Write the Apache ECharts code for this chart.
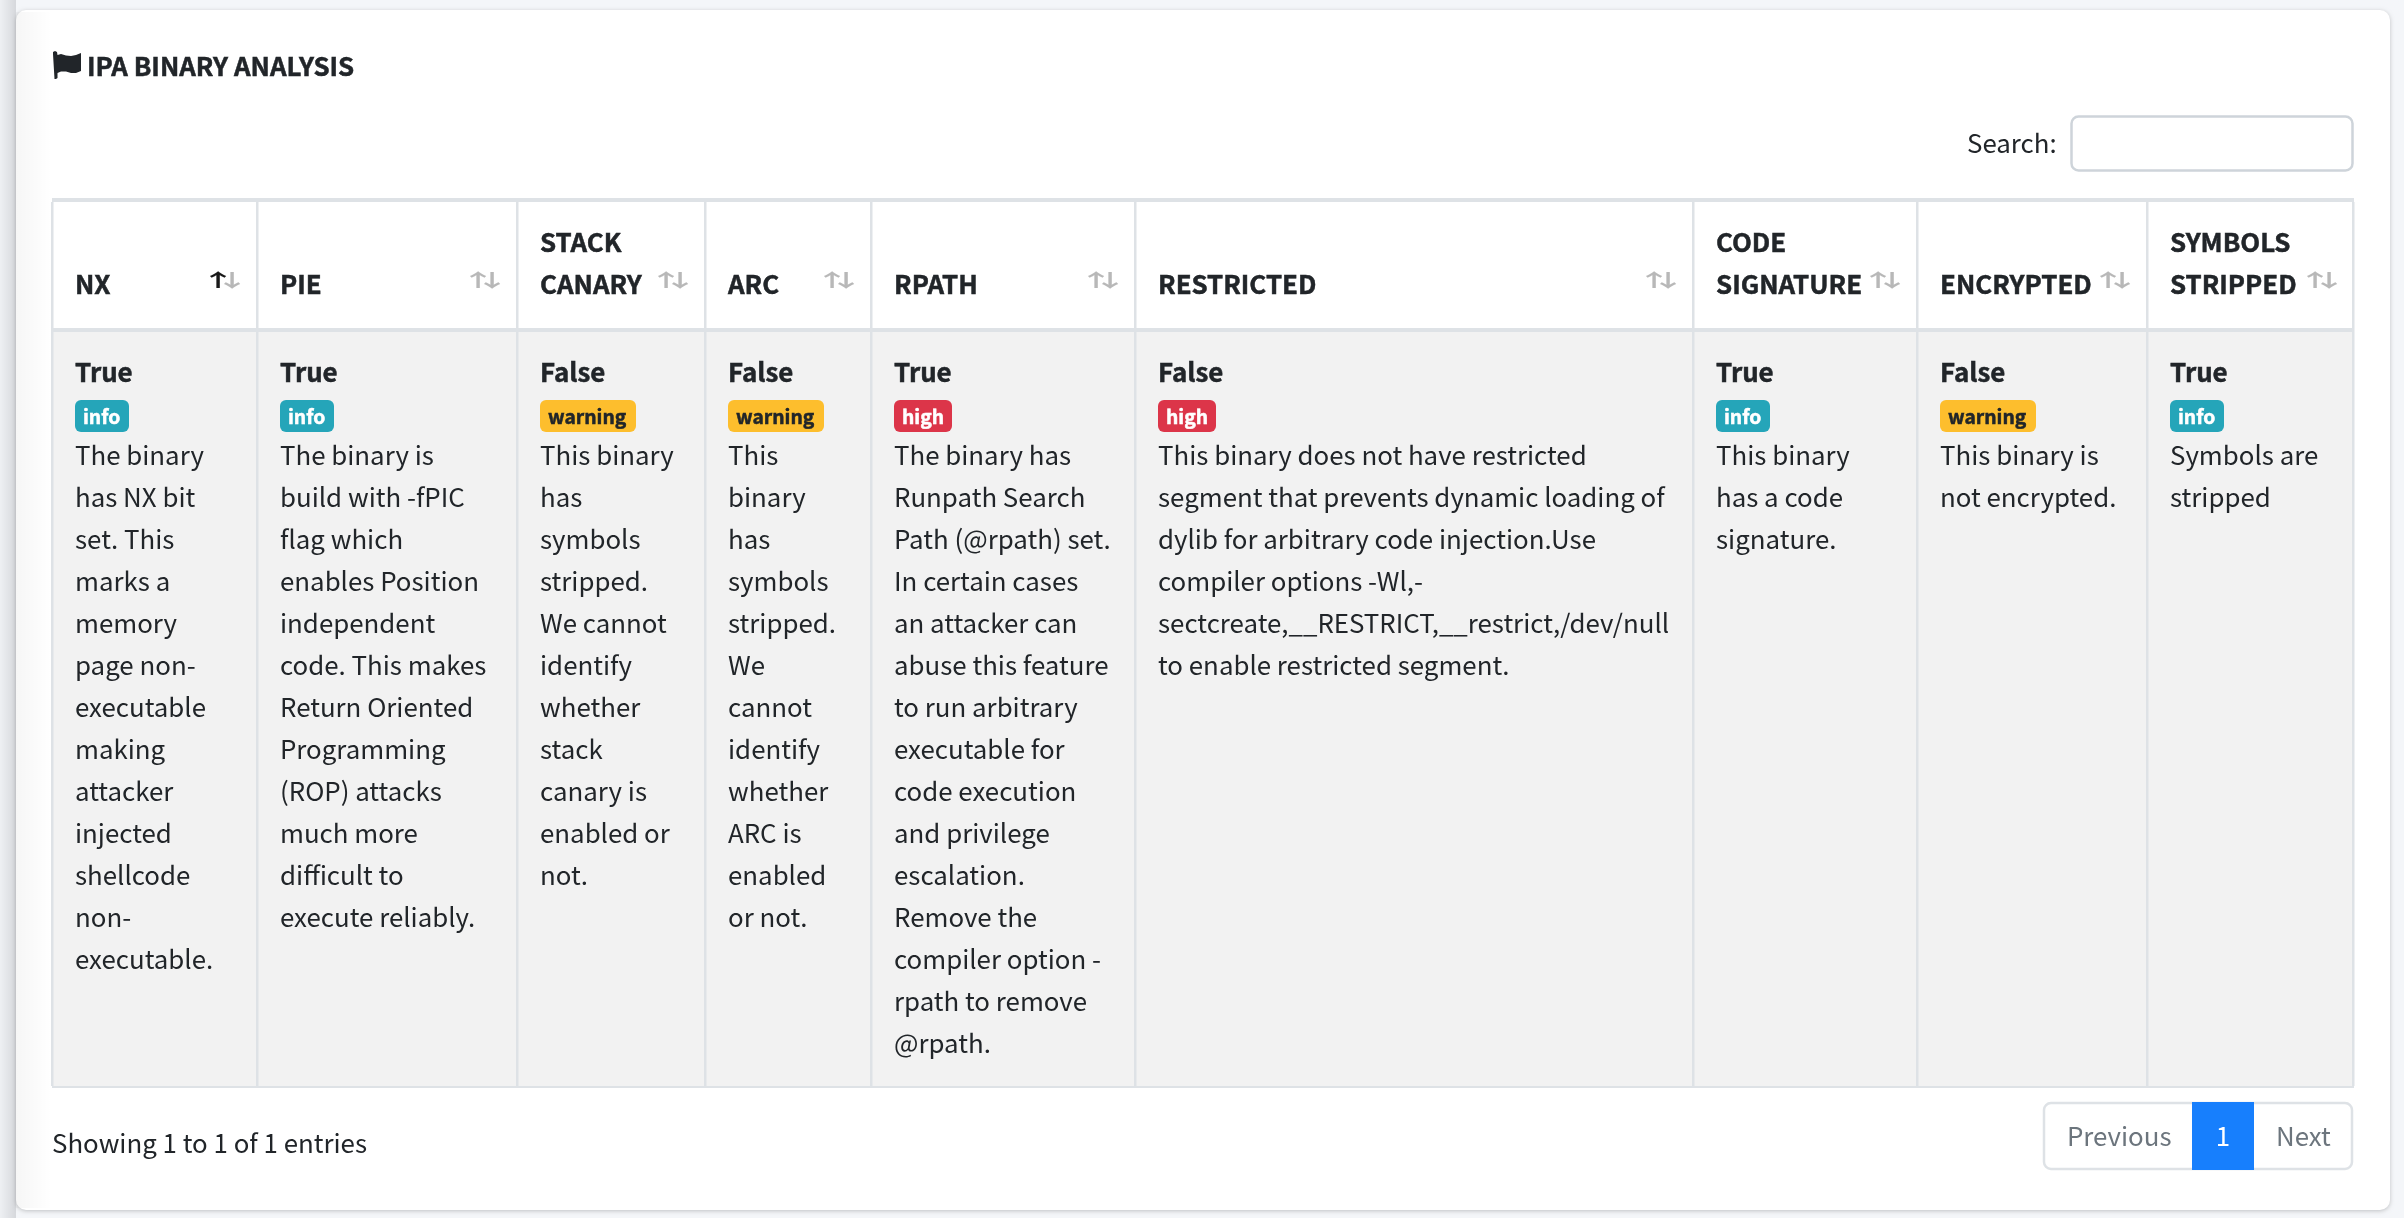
<!DOCTYPE html>
<html><head><meta charset="utf-8">
<style>html,body{margin:0;padding:0;background:#f4f6f9}#c{width:2404px;height:1218px}</style>
<script src="https://cdn.jsdelivr.net/npm/echarts@6/dist/echarts.min.js"></script>
</head><body><div id="c"></div>
<script>
const title = 'IPA BINARY ANALYSIS';
const headers = [['NX'],['PIE'],['STACK','CANARY'],['ARC'],['RPATH'],['RESTRICTED'],['CODE','SIGNATURE'],['ENCRYPTED'],['SYMBOLS','STRIPPED']];
const statuses = ['True','True','False','False','True','False','True','False','True'];
const severities = ['info','info','warning','warning','high','high','info','warning','info'];
const descriptions = [
 ['The binary','has NX bit','set. This','marks a','memory','page non-','executable','making','attacker','injected','shellcode','non-','executable.'],
 ['The binary is','build with -fPIC','flag which','enables Position','independent','code. This makes','Return Oriented','Programming','(ROP) attacks','much more','difficult to','execute reliably.'],
 ['This binary','has','symbols','stripped.','We cannot','identify','whether','stack','canary is','enabled or','not.'],
 ['This','binary','has','symbols','stripped.','We','cannot','identify','whether','ARC is','enabled','or not.'],
 ['The binary has','Runpath Search','Path (@rpath) set.','In certain cases','an attacker can','abuse this feature','to run arbitrary','executable for','code execution','and privilege','escalation.','Remove the','compiler option -','rpath to remove','@rpath.'],
 ['This binary does not have restricted','segment that prevents dynamic loading of','dylib for arbitrary code injection.Use','compiler options -Wl,-','sectcreate,__RESTRICT,__restrict,/dev/null','to enable restricted segment.'],
 ['This binary','has a code','signature.'],
 ['This binary is','not encrypted.'],
 ['Symbols are','stripped']
];
const searchLabel = 'Search:';
const footerText = 'Showing 1 to 1 of 1 entries';
const pager = ['Previous','1','Next'];

// layout (pixels of the reference)
const W = 2404, H = 1218;
const edges = [52,257,517,705,871,1135,1693,1917,2147,2354];
const FONT = '"Noto Sans CJK JP","Noto Sans",sans-serif';
const BODY = 25.85, SMALL = 19.3;
const INK = '#212529', LINE = '#dee2e6';
const badge = {
  info:{fill:'#25a5b9',ink:'#ffffff',w:54},
  warning:{fill:'#fdbe2d',ink:'#212529',w:96},
  high:{fill:'#dc3549',ink:'#ffffff',w:58}
};
// y is the text baseline; the library places text by its top edge
const txt = (text,x,y,size,weight,fill,extra) => ({type:'text',silent:true,
  style:Object.assign({text,x,y:y-size*0.875,fill,font:`${weight} ${size}px ${FONT}`,align:'left',verticalAlign:'top'},
    weight>=700?{stroke:fill,lineWidth:0.5}:{},extra||{})});
const arrow = (text,x,y,opacity) => ({type:'text',silent:true,x,y,scaleX:1.9,scaleY:1,
  style:{text,x:0,y:0,fill:'#000000',opacity,font:`700 18px ${FONT}`,align:'center',verticalAlign:'middle'}});

const chart = echarts.init(document.getElementById('c'),null,{width:W,height:H});

function renderColumn(params, api){
  const i = api.value(0);
  const p = (x,y) => api.coord([x,y]);
  const [x0,y0] = p(edges[i],202), [x1,y1] = p(edges[i+1],1086);
  const [,yb] = p(0,332);
  const tx = x0 + 23, kids = [];
  // body cell
  kids.push({type:'rect',shape:{x:x0,y:yb,width:x1-x0,height:y1-yb},style:{fill:'#f2f2f2'}});
  // header text
  const hl = headers[i];
  hl.forEach((s,k)=>kids.push(txt(s,tx,294-(hl.length-1-k)*42,BODY,700,INK)));
  // sort arrows
  kids.push(arrow('↑',x1-39,280.5,i===0?0.9:0.28));
  kids.push(arrow('↓',x1-25,280.5,0.28));
  // status
  kids.push(txt(statuses[i],tx,382,BODY,700,INK));
  // badge
  const b = badge[severities[i]];
  kids.push({type:'rect',shape:{x:tx,y:400,width:b.w,height:32,r:6},style:{fill:b.fill}});
  kids.push(txt(severities[i],tx+8,424,SMALL,700,b.ink));
  // description
  descriptions[i].forEach((s,k)=>kids.push(txt(s,tx,465+k*42,BODY,400,INK)));
  // vertical separators
  kids.push({type:'rect',shape:{x:x0-1,y:y0,width:2.5,height:y1-y0},style:{fill:LINE}});
  if(i===edges.length-2) kids.push({type:'rect',shape:{x:x1-2,y:y0,width:2.5,height:y1-y0},style:{fill:LINE}});
  return {type:'group',children:kids};
}

const flagPoints = [[53,54],[53,52],[55,51],[57,52],[57.5,55],[61,54],[66,55.5],[71,56],[76,55],[81,53],[81,71],[76,73],[71,73],[66,71.5],[61,71.5],[57.5,73],[57.5,78],[56,79],[54.5,79]];
const pg = {x:2043,y:1102,w:310,h:68};
chart.setOption({
  animation:false,
  backgroundColor:'#f4f6f9',
  grid:{left:0,right:0,top:0,bottom:0},
  xAxis:{type:'value',min:0,max:W,show:false},
  yAxis:{type:'value',min:0,max:H,inverse:true,show:false},
  graphic:[
    {type:'rect',z:0,shape:{x:0,y:0,width:16,height:H},style:{fill:new echarts.graphic.LinearGradient(0,0,1,0,[{offset:0,color:'#eef0f3'},{offset:1,color:'#d6d8dc'}])}},
    {type:'rect',z:1,shape:{x:16,y:10,width:2374,height:1200,r:10},style:{fill:'#ffffff',shadowBlur:4,shadowColor:'rgba(0,0,0,0.22)',shadowOffsetY:1}},
    {type:'rect',z:1,shape:{x:16,y:12,width:36,height:1196},style:{fill:new echarts.graphic.LinearGradient(0,0,1,0,[{offset:0,color:'rgba(0,0,0,0.035)'},{offset:1,color:'rgba(0,0,0,0)'}])}},
    // flag icon
    {type:'polygon',z:2,shape:{points:flagPoints},style:{fill:INK}},
    Object.assign(txt(title,87,76,BODY,700,INK),{z:2}),
    Object.assign(txt(searchLabel,1967,153,BODY,400,INK),{z:2}),
    {type:'rect',z:2,shape:{x:2071.5,y:116.5,width:281,height:54,r:7},style:{fill:'#fff',stroke:'#ced4da',lineWidth:2.5}},
    Object.assign(txt(footerText,52,1153,BODY,400,INK),{z:2}),
    // pager
    {type:'rect',z:2,shape:{x:pg.x+1,y:pg.y+1,width:pg.w-2,height:pg.h-2,r:7},style:{fill:'#fff',stroke:LINE,lineWidth:2.5}},
    {type:'rect',z:3,shape:{x:2192,y:pg.y,width:62,height:pg.h},style:{fill:'#177ffd'}},
    Object.assign(txt(pager[0],2067,1146,BODY,400,'#6c757d'),{z:4}),
    Object.assign(txt(pager[1],2223,1146,BODY,400,'#ffffff',{align:'center'}),{z:4}),
    Object.assign(txt(pager[2],2276,1146,BODY,400,'#6c757d'),{z:4}),
    // table rules
    {type:'rect',z:30,shape:{x:52,y:198,width:2302,height:4},style:{fill:LINE}},
    {type:'rect',z:30,shape:{x:52,y:328,width:2302,height:4},style:{fill:LINE}},
    {type:'rect',z:30,shape:{x:52,y:1086,width:2302,height:2},style:{fill:LINE}}
  ],
  series:[{
    type:'custom',coordinateSystem:'cartesian2d',clip:false,z:2,
    data:headers.map((h,i)=>[i]),
    encode:{x:0,y:0},
    renderItem:renderColumn
  }]
});
</script></body></html>
